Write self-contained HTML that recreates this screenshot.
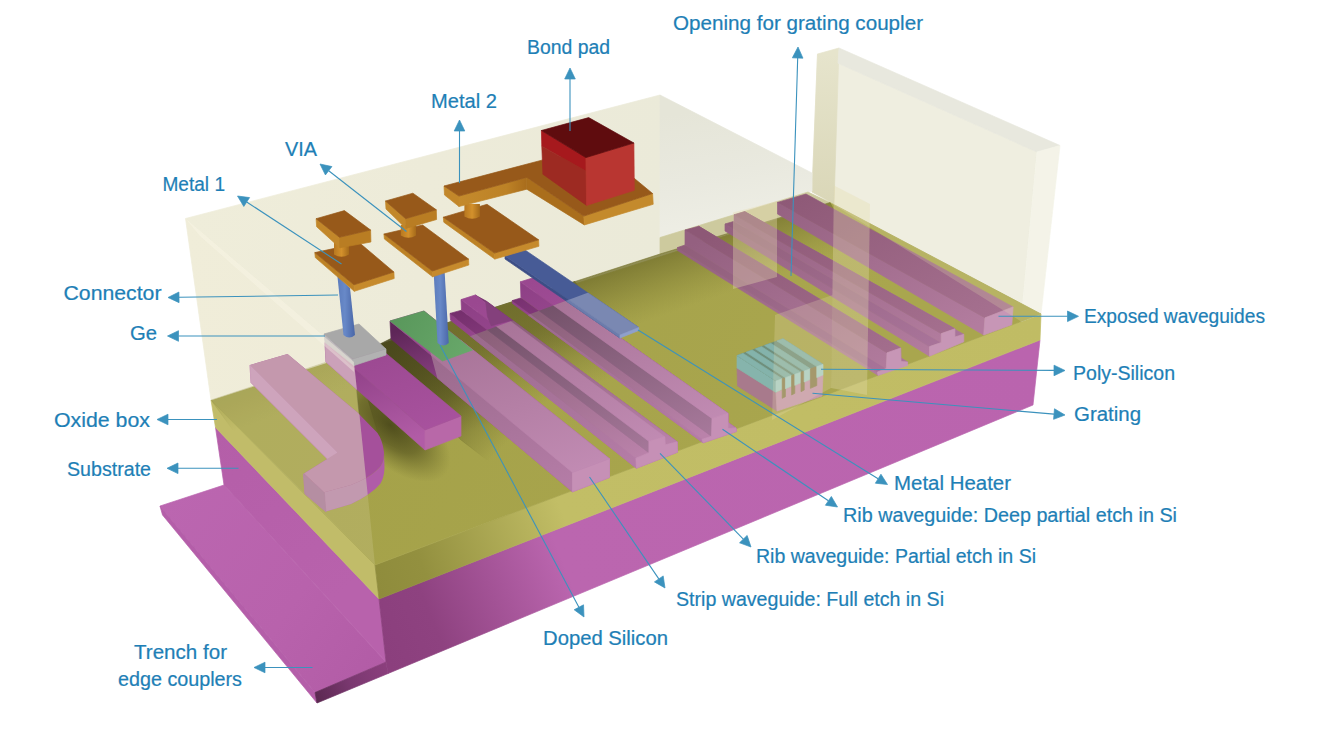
<!DOCTYPE html>
<html><head><meta charset="utf-8"><title>Silicon photonics platform cross-section</title>
<style>html,body{margin:0;padding:0;background:#fff}svg{display:block}text{font-family:"Liberation Sans",sans-serif;font-size:20px;fill:#1e7fb6;stroke:#1e7fb6;stroke-width:0.22px}</style>
</head><body>
<svg width="1321" height="744" viewBox="0 0 1321 744">
<defs><linearGradient id="gtr" gradientUnits="userSpaceOnUse" x1="160" y1="506" x2="386" y2="662"><stop offset="0" stop-color="#bb66b0"/><stop offset="0.6" stop-color="#b862ac"/><stop offset="1" stop-color="#b25ca6"/></linearGradient><linearGradient id="gsw" gradientUnits="userSpaceOnUse" x1="215" y1="427" x2="330" y2="600"><stop offset="0" stop-color="#b45ea8"/><stop offset="1" stop-color="#b862ac"/></linearGradient><linearGradient id="gtf" gradientUnits="userSpaceOnUse" x1="315" y1="700" x2="388" y2="670"><stop offset="0" stop-color="#5a2850"/><stop offset="0.5" stop-color="#7a3870"/><stop offset="1" stop-color="#8b3f7d"/></linearGradient><linearGradient id="gsf" gradientUnits="userSpaceOnUse" x1="379" y1="640" x2="1040" y2="372"><stop offset="0" stop-color="#8b3f7d"/><stop offset="0.08" stop-color="#8e4280"/><stop offset="0.28" stop-color="#bb66af"/><stop offset="1" stop-color="#ba64ae"/></linearGradient><linearGradient id="gof" gradientUnits="userSpaceOnUse" x1="375" y1="582" x2="1041" y2="327"><stop offset="0" stop-color="#8f8c3c"/><stop offset="0.07" stop-color="#93903f"/><stop offset="0.28" stop-color="#c2be66"/><stop offset="1" stop-color="#c0bc64"/></linearGradient><linearGradient id="gws" gradientUnits="userSpaceOnUse" x1="0" y1="54" x2="0" y2="200"><stop offset="0" stop-color="#e6e4cc"/><stop offset="1" stop-color="#dad7b8"/></linearGradient><linearGradient id="got" gradientUnits="userSpaceOnUse" x1="300" y1="300" x2="800" y2="520"><stop offset="0" stop-color="#a4a148"/><stop offset="1" stop-color="#a9a64e"/></linearGradient><linearGradient id="gcb" gradientUnits="userSpaceOnUse" x1="186" y1="218" x2="660" y2="250"><stop offset="0" stop-color="#efedda"/><stop offset="0.5" stop-color="#edebd9"/><stop offset="1" stop-color="#ebead9"/></linearGradient><linearGradient id="gct" gradientUnits="userSpaceOnUse" x1="700" y1="110" x2="720" y2="230"><stop offset="0" stop-color="#e5e5d8"/><stop offset="0.55" stop-color="#e9e9df"/><stop offset="1" stop-color="#eeeee5"/></linearGradient><linearGradient id="gfs" gradientUnits="userSpaceOnUse" x1="500" y1="306" x2="537" y2="406"><stop offset="0" stop-color="#45431a" stop-opacity="0.9"/><stop offset="0.3" stop-color="#504e1c" stop-opacity="0.7"/><stop offset="0.7" stop-color="#6a6828" stop-opacity="0.3"/><stop offset="1" stop-color="#6a6828" stop-opacity="0"/></linearGradient><linearGradient id="gfs2" gradientUnits="userSpaceOnUse" x1="560" y1="288" x2="580" y2="345"><stop offset="0" stop-color="#77742f" stop-opacity="0.85"/><stop offset="0.35" stop-color="#7f7c34" stop-opacity="0.6"/><stop offset="1" stop-color="#8a8838" stop-opacity="0"/></linearGradient><linearGradient id="gfs3" gradientUnits="userSpaceOnUse" x1="280" y1="378" x2="292" y2="410"><stop offset="0" stop-color="#8a8838" stop-opacity="0.3"/><stop offset="1" stop-color="#8a8838" stop-opacity="0"/></linearGradient><linearGradient id="gfs4" gradientUnits="userSpaceOnUse" x1="395" y1="345" x2="500" y2="450"><stop offset="0" stop-color="#45431a" stop-opacity="0.85"/><stop offset="0.5" stop-color="#4a481a" stop-opacity="0.6"/><stop offset="1" stop-color="#5a5820" stop-opacity="0"/></linearGradient><radialGradient id="gbs" gradientUnits="userSpaceOnUse" cx="388" cy="422" r="37" gradientTransform="translate(386 424) rotate(42) scale(2 1) translate(-386 -424)"><stop offset="0" stop-color="#4a481a" stop-opacity="0.92"/><stop offset="0.5" stop-color="#55531e" stop-opacity="0.65"/><stop offset="1" stop-color="#6a6828" stop-opacity="0"/></radialGradient><clipPath id="paleA"><polygon points="185.5,218.5 211,400 375,565 354,362"/></clipPath><clipPath id="paleB"><polygon points="430,351 441,392 560,525 700,540 1041,330 1041,150 660,150 660,266"/></clipPath><clipPath id="paleclip"><polygon points="185.5,218.5 211,400 375,565 354,362"/><polygon points="430,351 441,392 560,525 700,540 1041,330 1041,150 660,150 660,266"/></clipPath><linearGradient id="st" gradientUnits="userSpaceOnUse" x1="400" y1="330" x2="437" y2="430"><stop offset="0" stop-color="#9a4890"/><stop offset="1" stop-color="#a8529e"/></linearGradient><linearGradient id="ss" gradientUnits="userSpaceOnUse" x1="400" y1="330" x2="437" y2="430"><stop offset="0" stop-color="#8a3c82"/><stop offset="1" stop-color="#b15ca6"/></linearGradient><linearGradient id="ssl" gradientUnits="userSpaceOnUse" x1="400" y1="330" x2="437" y2="430"><stop offset="0" stop-color="#742e6c"/><stop offset="1" stop-color="#9c4a92"/></linearGradient><linearGradient id="srs" gradientUnits="userSpaceOnUse" x1="400" y1="330" x2="437" y2="430"><stop offset="0" stop-color="#8e4086"/><stop offset="1" stop-color="#a04e96"/></linearGradient><linearGradient id="sds" gradientUnits="userSpaceOnUse" x1="400" y1="330" x2="437" y2="430"><stop offset="0" stop-color="#5e2658"/><stop offset="1" stop-color="#a8529e"/></linearGradient><linearGradient id="pt" gradientUnits="userSpaceOnUse" x1="500" y1="325" x2="560" y2="487"><stop offset="0" stop-color="#a87498"/><stop offset="1" stop-color="#c28cb4"/></linearGradient><linearGradient id="ps" gradientUnits="userSpaceOnUse" x1="500" y1="325" x2="560" y2="487"><stop offset="0" stop-color="#9a6a8c"/><stop offset="1" stop-color="#b47ca6"/></linearGradient><linearGradient id="psl" gradientUnits="userSpaceOnUse" x1="500" y1="325" x2="560" y2="487"><stop offset="0" stop-color="#8a5f78"/><stop offset="1" stop-color="#ba82aa"/></linearGradient><linearGradient id="prs" gradientUnits="userSpaceOnUse" x1="500" y1="325" x2="560" y2="487"><stop offset="0" stop-color="#74526a"/><stop offset="1" stop-color="#a6789a"/></linearGradient><linearGradient id="ggr" gradientUnits="userSpaceOnUse" x1="400" y1="315" x2="470" y2="355"><stop offset="0" stop-color="#5a985c"/><stop offset="1" stop-color="#68a86a"/></linearGradient><linearGradient id="et" gradientUnits="userSpaceOnUse" x1="740" y1="215" x2="850" y2="400"><stop offset="0" stop-color="#8d5876"/><stop offset="1" stop-color="#a5708f"/></linearGradient><linearGradient id="es" gradientUnits="userSpaceOnUse" x1="740" y1="215" x2="850" y2="400"><stop offset="0" stop-color="#946080"/><stop offset="1" stop-color="#b27c9e"/></linearGradient><linearGradient id="esl" gradientUnits="userSpaceOnUse" x1="740" y1="215" x2="850" y2="400"><stop offset="0" stop-color="#905e7a"/><stop offset="1" stop-color="#a9749a"/></linearGradient><linearGradient id="gc1" gradientUnits="userSpaceOnUse" x1="337.4" y1="0" x2="354" y2="0"><stop offset="0" stop-color="#5c7cbc"/><stop offset="0.45" stop-color="#6889c8"/><stop offset="1" stop-color="#4c69aa"/></linearGradient><linearGradient id="gc2" gradientUnits="userSpaceOnUse" x1="433.5" y1="0" x2="448.4" y2="0"><stop offset="0" stop-color="#5c7cbc"/><stop offset="0.45" stop-color="#6889c8"/><stop offset="1" stop-color="#4c69aa"/></linearGradient><linearGradient id="gv1" gradientUnits="userSpaceOnUse" x1="334" y1="0" x2="349" y2="0"><stop offset="0" stop-color="#b87820"/><stop offset="0.5" stop-color="#d3912c"/><stop offset="1" stop-color="#a56a1a"/></linearGradient><linearGradient id="gv2" gradientUnits="userSpaceOnUse" x1="400.8" y1="0" x2="416" y2="0"><stop offset="0" stop-color="#b87820"/><stop offset="0.5" stop-color="#d3912c"/><stop offset="1" stop-color="#a56a1a"/></linearGradient><linearGradient id="gv3" gradientUnits="userSpaceOnUse" x1="464.4" y1="0" x2="479.9" y2="0"><stop offset="0" stop-color="#b87820"/><stop offset="0.5" stop-color="#d3912c"/><stop offset="1" stop-color="#a56a1a"/></linearGradient><linearGradient id="garm" gradientUnits="userSpaceOnUse" x1="459" y1="0" x2="527" y2="0"><stop offset="0" stop-color="#c48a2c"/><stop offset="0.7" stop-color="#bd8226"/><stop offset="1" stop-color="#a86c1c"/></linearGradient></defs>
<rect width="1321" height="744" fill="#fff"/>
<!-- substrate -->
<polygon points="160,506 224,485 386,662 315,692.5" fill="url(#gtr)" stroke="url(#gtr)" stroke-width="0.7" stroke-linejoin="round"/>
<polygon points="160,506 315,692.5 317,703 162.5,515" fill="#b45ea9" stroke="#b45ea9" stroke-width="0.7" stroke-linejoin="round"/>
<polygon points="215.5,427.5 379,599 386,662 224,485" fill="url(#gsw)" stroke="url(#gsw)" stroke-width="0.7" stroke-linejoin="round"/>
<polygon points="315,692.5 386,662 388,673.5 317,703" fill="url(#gtf)" stroke="url(#gtf)" stroke-width="0.7" stroke-linejoin="round"/>
<polygon points="379,599 1040,340 1033,405 388,673.5 386,662" fill="url(#gsf)" stroke="url(#gsf)" stroke-width="0.7" stroke-linejoin="round"/>
<!-- oxide -->
<polygon points="211,400 375,565 379,599 215.5,427.5" fill="#c1bc69" stroke="#c1bc69" stroke-width="0.7" stroke-linejoin="round"/>
<polygon points="375,565 1041,314 1040,340 379,599" fill="url(#gof)" stroke="url(#gof)" stroke-width="0.7" stroke-linejoin="round"/>
<!-- wall solid (behind floor) -->
<polygon points="817.5,54 1037,152 1021,321.5 812,190" fill="#efeee0" stroke="#efeee0" stroke-width="0.7" stroke-linejoin="round"/>
<polygon points="817.5,54 839,48 834,204 812,192" fill="url(#gws)" stroke="url(#gws)" stroke-width="0.7" stroke-linejoin="round"/>
<polygon points="839,48 1060,145.5 1037,152 838,63.2" fill="#e8e8de" stroke="#e8e8de" stroke-width="0.7" stroke-linejoin="round"/>
<polygon points="1037,152 1060,145.5 1041,314 1021,321.5" fill="#f4f3e8" stroke="#f4f3e8" stroke-width="0.7" stroke-linejoin="round"/>
<polygon points="211,400 375,565 1041,314 830,202.5" fill="url(#got)" stroke="url(#got)" stroke-width="0.7" stroke-linejoin="round"/>
<!-- cladding back -->
<polygon points="185.5,218.5 660,95 660,254 211,400" fill="url(#gcb)" stroke="url(#gcb)" stroke-width="0.7" stroke-linejoin="round"/>
<polygon points="660,95 812,173 812,191 808,192 660,237.5" fill="url(#gct)" stroke="url(#gct)" stroke-width="0.7" stroke-linejoin="round"/>
<polygon points="660,237.5 808,192 830,202.5 660,254" fill="#cdca9e" stroke="#cdca9e" stroke-width="0.7" stroke-linejoin="round"/>
<polygon points="354,353 575,281.5 640,380 440,470 380,440" fill="url(#gfs)" stroke="url(#gfs)" stroke-width="0.7" stroke-linejoin="round"/>
<polygon points="354,353 660,254 830,202.5 860,260 690,320 380,420" fill="url(#gfs2)" stroke="url(#gfs2)" stroke-width="0.7" stroke-linejoin="round"/>
<polygon points="211,400 354,353 362,400 240,440" fill="url(#gfs3)" stroke="url(#gfs3)" stroke-width="0.7" stroke-linejoin="round"/>
<polygon points="372,348 392,338 545,470 500,470 461,440" fill="url(#gfs4)" stroke="url(#gfs4)" stroke-width="0.7" stroke-linejoin="round"/>
<polygon points="355.5,380 480,430 500,520 400,560 374.5,562 366,480" fill="url(#gbs)" stroke="url(#gbs)" stroke-width="0.7" stroke-linejoin="round"/>
<!-- bent strip wg -->
<g>
<polygon points="250,365 337.5,452.5 338.5,470 251,382.5" fill="#b060a6" stroke="#b060a6" stroke-width="0.7" stroke-linejoin="round"/>
<path d="M324.3,492.3 L351,485 Q369,478 377,470 Q384.5,464 384,452 L384.5,468 Q384,478 380.5,483.5 Q372,494 351,504 L325.8,511.5 Z" fill="#b05ca8"/>
<polygon points="303.6,474 324.3,492.3 325.8,511.5 305,493.8" fill="#b868a8" stroke="#b868a8" stroke-width="0.7" stroke-linejoin="round"/>
<path d="M250,365 L287.5,354 L357.5,412.5 L377.5,433 Q382.5,440 384,452 Q384.5,464 377,470 Q369,478 351,485 L324.3,492.3 L304,473.5 L337.5,452.5 Z" fill="#a5509b"/>
</g>
<g clip-path="url(#paleclip)">
<polygon points="250,365 337.5,452.5 338.5,470 251,382.5" fill="#c797b8" stroke="#c797b8" stroke-width="0.7" stroke-linejoin="round"/>
<path d="M324.3,492.3 L351,485 Q369,478 377,470 Q384.5,464 384,452 L384.5,468 Q384,478 380.5,483.5 Q372,494 351,504 L325.8,511.5 Z" fill="#b98aa8"/>
<polygon points="303.6,474 324.3,492.3 325.8,511.5 305,493.8" fill="#aa7d99" stroke="#aa7d99" stroke-width="0.7" stroke-linejoin="round"/>
<path d="M250,365 L287.5,354 L357.5,412.5 L377.5,433 Q382.5,440 384,452 Q384.5,464 377,470 Q369,478 351,485 L324.3,492.3 L304,473.5 L337.5,452.5 Z" fill="#bb89a6"/>
</g>
<!-- Ge wg -->
<g>
<polygon points="325,342.5 425,430 425,450 326,362" fill="url(#ss)" stroke="url(#ss)" stroke-width="0.7" stroke-linejoin="round"/>
<polygon points="425,430 461,416 461,436 425,450" fill="#b868a8" stroke="#b868a8" stroke-width="0.7" stroke-linejoin="round"/>
<polygon points="325,342.5 358,330 461,416 425,430" fill="url(#st)" stroke="url(#st)" stroke-width="0.7" stroke-linejoin="round"/>
</g><g clip-path="url(#paleB)">
<polygon points="325,342.5 425,430 425,450 326,362" fill="url(#ps)" stroke="url(#ps)" stroke-width="0.7" stroke-linejoin="round"/>
<polygon points="425,430 461,416 461,436 425,450" fill="#c690b6" stroke="#c690b6" stroke-width="0.7" stroke-linejoin="round"/>
<polygon points="325,342.5 358,330 461,416 425,430" fill="url(#pt)" stroke="url(#pt)" stroke-width="0.7" stroke-linejoin="round"/>
</g><g clip-path="url(#paleA)">
<polygon points="325,342.5 425,430 425,450 326,362" fill="#c493b4" stroke="#c493b4" stroke-width="0.7" stroke-linejoin="round"/>
<polygon points="425,430 461,416 461,436 425,450" fill="#c290b0" stroke="#c290b0" stroke-width="0.7" stroke-linejoin="round"/>
<polygon points="325,342.5 358,330 461,416 425,430" fill="#bb8aa6" stroke="#bb8aa6" stroke-width="0.7" stroke-linejoin="round"/>
</g>
<!-- Ge block -->
<polygon points="324,334 352.5,359 354,365.5 325,342.5" fill="#bcb8bb" stroke="#bcb8bb" stroke-width="0.7" stroke-linejoin="round"/>
<polygon points="352.5,359 386,349 386,355 354,365.5" fill="#b2b2b2" stroke="#b2b2b2" stroke-width="0.7" stroke-linejoin="round"/>
<polygon points="324,334 359,324 386,349 352.5,359" fill="#a8a8a8" stroke="#a8a8a8" stroke-width="0.7" stroke-linejoin="round"/>
<!-- doped / strip wg -->
<g>
<polygon points="390,321 572.5,472.5 572.5,491.75 391,339" fill="url(#sds)" stroke="url(#sds)" stroke-width="0.7" stroke-linejoin="round"/>
<polygon points="572.5,472.5 609.5,458.75 609.5,477.5 572.5,491.75" fill="#b868a8" stroke="#b868a8" stroke-width="0.7" stroke-linejoin="round"/>
<polygon points="390,321 424,311 609.5,458.75 572.5,472.5" fill="url(#st)" stroke="url(#st)" stroke-width="0.7" stroke-linejoin="round"/>
</g><g clip-path="url(#paleB)">
<polygon points="390,321 572.5,472.5 572.5,491.75 391,339" fill="url(#ps)" stroke="url(#ps)" stroke-width="0.7" stroke-linejoin="round"/>
<polygon points="572.5,472.5 609.5,458.75 609.5,477.5 572.5,491.75" fill="#c690b6" stroke="#c690b6" stroke-width="0.7" stroke-linejoin="round"/>
<polygon points="390,321 424,311 609.5,458.75 572.5,472.5" fill="url(#pt)" stroke="url(#pt)" stroke-width="0.7" stroke-linejoin="round"/>
</g><g clip-path="url(#paleA)">
<polygon points="390,321 572.5,472.5 572.5,491.75 391,339" fill="#c493b4" stroke="#c493b4" stroke-width="0.7" stroke-linejoin="round"/>
<polygon points="572.5,472.5 609.5,458.75 609.5,477.5 572.5,491.75" fill="#c290b0" stroke="#c290b0" stroke-width="0.7" stroke-linejoin="round"/>
<polygon points="390,321 424,311 609.5,458.75 572.5,472.5" fill="#bb8aa6" stroke="#bb8aa6" stroke-width="0.7" stroke-linejoin="round"/>
</g>
<polygon points="390,321 424,311 472.5,350 442.5,361" fill="url(#ggr)" stroke="url(#ggr)" stroke-width="0.7" stroke-linejoin="round"/>
<!-- rib wg partial -->
<g>
<polygon points="450,313.4 635.9,458.2 636.4,468.2 450.5,320.2" fill="url(#ss)" stroke="url(#ss)" stroke-width="0.7" stroke-linejoin="round"/>
<polygon points="450,313.4 461.5,310.2 648.9,452.7 635.9,458.2" fill="url(#ssl)" stroke="url(#ssl)" stroke-width="0.7" stroke-linejoin="round"/>
<polygon points="475.2,295 486.6,301.3 677.2,441.8 665.3,444.8 664.8,436.8" fill="url(#ssl)" stroke="url(#ssl)" stroke-width="0.7" stroke-linejoin="round"/>
<polygon points="461,299.6 648.9,441.3 648.9,452.7 461.5,310.2" fill="url(#srs)" stroke="url(#srs)" stroke-width="0.7" stroke-linejoin="round"/>
<polygon points="461,299.6 475.2,295 664.8,436.8 648.9,441.3" fill="url(#st)" stroke="url(#st)" stroke-width="0.7" stroke-linejoin="round"/>
<polygon points="635.9,458.2 648.9,452.7 648.9,441.3 664.8,436.8 665.3,444.8 677.2,441.8 677.5,452.2 636.4,468.2" fill="#b868a8" stroke="#b868a8" stroke-width="0.7" stroke-linejoin="round"/>
</g><g clip-path="url(#paleB)">
<polygon points="450,313.4 635.9,458.2 636.4,468.2 450.5,320.2" fill="url(#ps)" stroke="url(#ps)" stroke-width="0.7" stroke-linejoin="round"/>
<polygon points="450,313.4 461.5,310.2 648.9,452.7 635.9,458.2" fill="url(#psl)" stroke="url(#psl)" stroke-width="0.7" stroke-linejoin="round"/>
<polygon points="475.2,295 486.6,301.3 677.2,441.8 665.3,444.8 664.8,436.8" fill="url(#psl)" stroke="url(#psl)" stroke-width="0.7" stroke-linejoin="round"/>
<polygon points="461,299.6 648.9,441.3 648.9,452.7 461.5,310.2" fill="url(#prs)" stroke="url(#prs)" stroke-width="0.7" stroke-linejoin="round"/>
<polygon points="461,299.6 475.2,295 664.8,436.8 648.9,441.3" fill="url(#pt)" stroke="url(#pt)" stroke-width="0.7" stroke-linejoin="round"/>
<polygon points="635.9,458.2 648.9,452.7 648.9,441.3 664.8,436.8 665.3,444.8 677.2,441.8 677.5,452.2 636.4,468.2" fill="#c690b6" stroke="#c690b6" stroke-width="0.7" stroke-linejoin="round"/>
</g><g clip-path="url(#paleA)">
<polygon points="450,313.4 635.9,458.2 636.4,468.2 450.5,320.2" fill="#c493b4" stroke="#c493b4" stroke-width="0.7" stroke-linejoin="round"/>
<polygon points="450,313.4 461.5,310.2 648.9,452.7 635.9,458.2" fill="#bb8aa6" stroke="#bb8aa6" stroke-width="0.7" stroke-linejoin="round"/>
<polygon points="475.2,295 486.6,301.3 677.2,441.8 665.3,444.8 664.8,436.8" fill="#bb8aa6" stroke="#bb8aa6" stroke-width="0.7" stroke-linejoin="round"/>
<polygon points="461,299.6 648.9,441.3 648.9,452.7 461.5,310.2" fill="#c493b4" stroke="#c493b4" stroke-width="0.7" stroke-linejoin="round"/>
<polygon points="461,299.6 475.2,295 664.8,436.8 648.9,441.3" fill="#bb8aa6" stroke="#bb8aa6" stroke-width="0.7" stroke-linejoin="round"/>
<polygon points="635.9,458.2 648.9,452.7 648.9,441.3 664.8,436.8 665.3,444.8 677.2,441.8 677.5,452.2 636.4,468.2" fill="#c290b0" stroke="#c290b0" stroke-width="0.7" stroke-linejoin="round"/>
</g>
<polygon points="485.7,301.2 512.2,320.2 491.2,325.7 487.5,316.6" fill="#84407c" stroke="#84407c" stroke-width="0.7" stroke-linejoin="round"/>
<!-- rib wg deep -->
<g>
<polygon points="512.2,300.6 702.1,439.3 703.1,442.8 512.5,303.5" fill="url(#ss)" stroke="url(#ss)" stroke-width="0.7" stroke-linejoin="round"/>
<polygon points="512.2,300.6 520.9,297.9 711.5,436.3 702.1,439.3" fill="url(#ssl)" stroke="url(#ssl)" stroke-width="0.7" stroke-linejoin="round"/>
<polygon points="534,277.5 540.3,291 736,428 728,428.5 728,413.4" fill="url(#ssl)" stroke="url(#ssl)" stroke-width="0.7" stroke-linejoin="round"/>
<polygon points="520.4,281.8 712,418.4 711.5,436.3 520.9,297.4" fill="url(#srs)" stroke="url(#srs)" stroke-width="0.7" stroke-linejoin="round"/>
<polygon points="520.4,281.8 534,277.5 728,413.4 712,418.4" fill="url(#st)" stroke="url(#st)" stroke-width="0.7" stroke-linejoin="round"/>
<polygon points="702.1,439.3 711.5,436.3 712,418.4 728,413.4 728,428.5 736,428 736.4,431.5 703.1,442.8" fill="#b868a8" stroke="#b868a8" stroke-width="0.7" stroke-linejoin="round"/>
</g><g clip-path="url(#paleB)">
<polygon points="512.2,300.6 702.1,439.3 703.1,442.8 512.5,303.5" fill="url(#ps)" stroke="url(#ps)" stroke-width="0.7" stroke-linejoin="round"/>
<polygon points="512.2,300.6 520.9,297.9 711.5,436.3 702.1,439.3" fill="url(#psl)" stroke="url(#psl)" stroke-width="0.7" stroke-linejoin="round"/>
<polygon points="534,277.5 540.3,291 736,428 728,428.5 728,413.4" fill="url(#psl)" stroke="url(#psl)" stroke-width="0.7" stroke-linejoin="round"/>
<polygon points="520.4,281.8 712,418.4 711.5,436.3 520.9,297.4" fill="url(#prs)" stroke="url(#prs)" stroke-width="0.7" stroke-linejoin="round"/>
<polygon points="520.4,281.8 534,277.5 728,413.4 712,418.4" fill="url(#pt)" stroke="url(#pt)" stroke-width="0.7" stroke-linejoin="round"/>
<polygon points="702.1,439.3 711.5,436.3 712,418.4 728,413.4 728,428.5 736,428 736.4,431.5 703.1,442.8" fill="#c690b6" stroke="#c690b6" stroke-width="0.7" stroke-linejoin="round"/>
</g><g clip-path="url(#paleA)">
<polygon points="512.2,300.6 702.1,439.3 703.1,442.8 512.5,303.5" fill="#c493b4" stroke="#c493b4" stroke-width="0.7" stroke-linejoin="round"/>
<polygon points="512.2,300.6 520.9,297.9 711.5,436.3 702.1,439.3" fill="#bb8aa6" stroke="#bb8aa6" stroke-width="0.7" stroke-linejoin="round"/>
<polygon points="534,277.5 540.3,291 736,428 728,428.5 728,413.4" fill="#bb8aa6" stroke="#bb8aa6" stroke-width="0.7" stroke-linejoin="round"/>
<polygon points="520.4,281.8 712,418.4 711.5,436.3 520.9,297.4" fill="#c493b4" stroke="#c493b4" stroke-width="0.7" stroke-linejoin="round"/>
<polygon points="520.4,281.8 534,277.5 728,413.4 712,418.4" fill="#bb8aa6" stroke="#bb8aa6" stroke-width="0.7" stroke-linejoin="round"/>
<polygon points="702.1,439.3 711.5,436.3 712,418.4 728,413.4 728,428.5 736,428 736.4,431.5 703.1,442.8" fill="#c290b0" stroke="#c290b0" stroke-width="0.7" stroke-linejoin="round"/>
</g>
<!-- heater -->
<g>
<polygon points="505,256 620,335 620,338 505,259" fill="#3c4e86" stroke="#3c4e86" stroke-width="0.7" stroke-linejoin="round"/>
<polygon points="505,256 525,250 638.75,327.5 620,335" fill="#475b96" stroke="#475b96" stroke-width="0.7" stroke-linejoin="round"/>
</g><g clip-path="url(#paleclip)">
<polygon points="505,256 620,335 620,338 505,259" fill="#6c7cac" stroke="#6c7cac" stroke-width="0.7" stroke-linejoin="round"/>
<polygon points="505,256 525,250 638.75,327.5 620,335" fill="#7a88b2" stroke="#7a88b2" stroke-width="0.7" stroke-linejoin="round"/>
<polygon points="620,335 638.75,327.5 638.75,330.5 620,338" fill="#8fa0cc" stroke="#8fa0cc" stroke-width="0.7" stroke-linejoin="round"/>
</g>
<!-- exposed wgs -->
<polygon points="677.5,247.5 877.4,372 878.1,375.4 677.5,250.5" fill="url(#es)" stroke="url(#es)" stroke-width="0.7" stroke-linejoin="round"/>
<polygon points="677.5,247.5 685,245 886.3,368.5 877.4,372" fill="url(#esl)" stroke="url(#esl)" stroke-width="0.7" stroke-linejoin="round"/>
<polygon points="698.75,226.25 705,234 907.6,362 901,361.5 900.7,348" fill="url(#esl)" stroke="url(#esl)" stroke-width="0.7" stroke-linejoin="round"/>
<polygon points="685,230 887,352.8 886.3,368.5 685,245" fill="url(#es)" stroke="url(#es)" stroke-width="0.7" stroke-linejoin="round"/>
<polygon points="685,230 698.75,226.25 900.7,348 887,352.8" fill="url(#et)" stroke="url(#et)" stroke-width="0.7" stroke-linejoin="round"/>
<polygon points="877.4,372 886.3,368.5 887,352.8 900.7,348 901,361.5 907.6,362 907.6,365.5 878.1,375.4" fill="#c796b6" stroke="#c796b6" stroke-width="0.7" stroke-linejoin="round"/>
<polygon points="725,224 929.5,346.6 929.5,356.2 725,231" fill="url(#es)" stroke="url(#es)" stroke-width="0.7" stroke-linejoin="round"/>
<polygon points="725,224 734,221.3 941.2,342.5 929.5,346.6" fill="url(#esl)" stroke="url(#esl)" stroke-width="0.7" stroke-linejoin="round"/>
<polygon points="744.5,211.6 751.5,216 963.8,334.3 954.9,337 954.9,328.8" fill="url(#esl)" stroke="url(#esl)" stroke-width="0.7" stroke-linejoin="round"/>
<polygon points="734,214.8 941.2,333.6 941.2,342.5 734,221.3" fill="url(#es)" stroke="url(#es)" stroke-width="0.7" stroke-linejoin="round"/>
<polygon points="734,214.8 744.5,211.6 954.9,328.8 941.2,333.6" fill="url(#et)" stroke="url(#et)" stroke-width="0.7" stroke-linejoin="round"/>
<polygon points="929.5,346.6 941.2,342.5 941.2,333.6 954.9,328.8 954.9,337 963.8,334.3 963.8,341.8 929.5,356.2" fill="#c796b6" stroke="#c796b6" stroke-width="0.7" stroke-linejoin="round"/>
<polygon points="777.5,202.4 985,317.8 983.7,335 777.5,214" fill="url(#es)" stroke="url(#es)" stroke-width="0.7" stroke-linejoin="round"/>
<polygon points="777.5,202.4 806,194 1013.1,306.9 985,317.8" fill="url(#et)" stroke="url(#et)" stroke-width="0.7" stroke-linejoin="round"/>
<polygon points="985,317.8 1013.1,306.9 1011.8,324.7 983.7,335" fill="#c796b6" stroke="#c796b6" stroke-width="0.7" stroke-linejoin="round"/>
<!-- grating -->
<polygon points="737,368 776,392.5 777,411 737.5,386" fill="#a87a8c" stroke="#a87a8c" stroke-width="0.7" stroke-linejoin="round"/>
<polygon points="776,392.5 823,375 822,396 777,411" fill="#c799b0" stroke="#c799b0" stroke-width="0.7" stroke-linejoin="round"/>
<polygon points="737,355.6 776,381 776,392.5 737,368" fill="#86b4ac" stroke="#86b4ac" stroke-width="0.7" stroke-linejoin="round"/>
<polygon points="737,355.6 783,338.75 823,364.4 776,381" fill="#6f8f7c" stroke="#6f8f7c" stroke-width="0.7" stroke-linejoin="round"/>
<polygon points="737,355.6 743.072,353.376 782.204,378.809 776,381" fill="#84b3ab" stroke="#84b3ab" stroke-width="0.7" stroke-linejoin="round"/>
<polygon points="776,381 782.204,378.809 782.204,389.309 776,392" fill="#a9d0cb" stroke="#a9d0cb" stroke-width="0.7" stroke-linejoin="round"/>
<polygon points="782.204,378.809 785.4,377.68 785.4,396.68 782.204,398.309" fill="#8f8256" stroke="#8f8256" stroke-width="0.7" stroke-linejoin="round"/>
<polygon points="746.2,352.23 752.272,350.006 791.604,375.489 785.4,377.68" fill="#84b3ab" stroke="#84b3ab" stroke-width="0.7" stroke-linejoin="round"/>
<polygon points="785.4,377.68 791.604,375.489 791.604,385.989 785.4,388.68" fill="#a9d0cb" stroke="#a9d0cb" stroke-width="0.7" stroke-linejoin="round"/>
<polygon points="791.604,375.489 794.8,374.36 794.8,393.36 791.604,394.989" fill="#8f8256" stroke="#8f8256" stroke-width="0.7" stroke-linejoin="round"/>
<polygon points="755.4,348.86 761.472,346.636 801.004,372.169 794.8,374.36" fill="#84b3ab" stroke="#84b3ab" stroke-width="0.7" stroke-linejoin="round"/>
<polygon points="794.8,374.36 801.004,372.169 801.004,382.669 794.8,385.36" fill="#a9d0cb" stroke="#a9d0cb" stroke-width="0.7" stroke-linejoin="round"/>
<polygon points="801.004,372.169 804.2,371.04 804.2,390.04 801.004,391.669" fill="#8f8256" stroke="#8f8256" stroke-width="0.7" stroke-linejoin="round"/>
<polygon points="764.6,345.49 770.672,343.266 810.404,368.849 804.2,371.04" fill="#84b3ab" stroke="#84b3ab" stroke-width="0.7" stroke-linejoin="round"/>
<polygon points="804.2,371.04 810.404,368.849 810.404,379.349 804.2,382.04" fill="#a9d0cb" stroke="#a9d0cb" stroke-width="0.7" stroke-linejoin="round"/>
<polygon points="810.404,368.849 816.796,366.591 816.796,385.591 810.404,388.349" fill="#8f8256" stroke="#8f8256" stroke-width="0.7" stroke-linejoin="round"/>
<polygon points="776.928,340.974 783,338.75 823,364.4 816.796,366.591" fill="#84b3ab" stroke="#84b3ab" stroke-width="0.7" stroke-linejoin="round"/>
<polygon points="816.796,366.591 823,364.4 823,374.9 816.796,377.591" fill="#a9d0cb" stroke="#a9d0cb" stroke-width="0.7" stroke-linejoin="round"/>
<!-- metals -->
<path d="M337.4,276 L343.5,335 Q349.25,340 355,335 L350,288 Z" fill="url(#gc1)"/>
<path d="M433.5,270 L437.5,343 Q443.125,348 448.75,343 L444.4,268 Z" fill="url(#gc2)"/>
<polygon points="314.8,252.6 354,284.8 354.3,291.3 315.3,257.6" fill="#bd8226" stroke="#bd8226" stroke-width="0.7" stroke-linejoin="round"/>
<polygon points="354,284.8 393.9,272 394.2,278.5 354.3,291.3" fill="#c68a2c" stroke="#c68a2c" stroke-width="0.7" stroke-linejoin="round"/>
<polygon points="314.8,252.6 359.7,243 393.9,272 354,284.8" fill="#97591a" stroke="#97591a" stroke-width="0.7" stroke-linejoin="round"/>
<path d="M334,240 L334,254.5 Q341.5,259.0 349,254.5 L349,240 Z" fill="url(#gv1)"/>
<polygon points="316.1,218.7 339.5,237.3 339.8,247.8 316.6,226.7" fill="#c2872a" stroke="#c2872a" stroke-width="0.7" stroke-linejoin="round"/>
<polygon points="339.5,237.3 370.6,230 370.9,242 339.8,247.8" fill="#b97d23" stroke="#b97d23" stroke-width="0.7" stroke-linejoin="round"/>
<polygon points="316.1,218.7 344.4,210.6 370.6,230 339.5,237.3" fill="#97591a" stroke="#97591a" stroke-width="0.7" stroke-linejoin="round"/>
<polygon points="383.9,234 432.3,271 432.6,276.8 384.4,239" fill="#bd8226" stroke="#bd8226" stroke-width="0.7" stroke-linejoin="round"/>
<polygon points="432.3,271 468.5,259 468.8,265 432.6,276.8" fill="#c68a2c" stroke="#c68a2c" stroke-width="0.7" stroke-linejoin="round"/>
<polygon points="383.9,234 422.6,225 468.5,259 432.3,271" fill="#97591a" stroke="#97591a" stroke-width="0.7" stroke-linejoin="round"/>
<path d="M400.8,225 L400.8,235.5 Q408.4,240.0 416,235.5 L416,225 Z" fill="url(#gv2)"/>
<polygon points="385.5,201 405.6,218.7 405.9,228.4 386,209" fill="#c2872a" stroke="#c2872a" stroke-width="0.7" stroke-linejoin="round"/>
<polygon points="405.6,218.7 436.3,209.8 436.6,219.5 405.9,228.4" fill="#b97d23" stroke="#b97d23" stroke-width="0.7" stroke-linejoin="round"/>
<polygon points="385.5,201 412.9,193.2 436.3,209.8 405.6,218.7" fill="#97591a" stroke="#97591a" stroke-width="0.7" stroke-linejoin="round"/>
<polygon points="443.3,217.2 494.5,253.1 494.8,259.1 443.8,222.2" fill="#bd8226" stroke="#bd8226" stroke-width="0.7" stroke-linejoin="round"/>
<polygon points="494.5,253.1 538.6,239.8 538.9,246.3 494.8,259.1" fill="#c68a2c" stroke="#c68a2c" stroke-width="0.7" stroke-linejoin="round"/>
<polygon points="443.3,217.2 487,204.3 538.6,239.8 494.5,253.1" fill="#97591a" stroke="#97591a" stroke-width="0.7" stroke-linejoin="round"/>
<path d="M464.4,204 L464.4,216.5 Q472.15,221.0 479.9,216.5 L479.9,204 Z" fill="url(#gv3)"/>
<polygon points="444,186 459,196.1 459,206.5 444.5,195" fill="#c2872a" stroke="#c2872a" stroke-width="0.7" stroke-linejoin="round"/>
<polygon points="459,196.1 526.8,177.4 526.8,189.2 459,206.5" fill="url(#garm)" stroke="url(#garm)" stroke-width="0.7" stroke-linejoin="round"/>
<polygon points="526.8,177.4 583.8,216.1 584.4,224.9 526.8,189.2" fill="#aa6e1c" stroke="#aa6e1c" stroke-width="0.7" stroke-linejoin="round"/>
<polygon points="583.8,216.1 652.6,193.5 653.2,204.3 584.4,224.9" fill="#c48a2c" stroke="#c48a2c" stroke-width="0.7" stroke-linejoin="round"/>
<polygon points="444,186 541.8,160.2 600,150 652.6,193.5 583.8,216.1 526.8,177.4 459,196.1" fill="#97591a" stroke="#97591a" stroke-width="0.7" stroke-linejoin="round"/>
<!-- bond pad -->
<polygon points="541.4,130.5 585.9,157.6 585.9,171 541.8,146.2" fill="#a6191d" stroke="#a6191d" stroke-width="0.7" stroke-linejoin="round"/>
<polygon points="541.8,146.2 585.9,171 586.6,205.4 542.9,174.2" fill="#9d2a22" stroke="#9d2a22" stroke-width="0.7" stroke-linejoin="round"/>
<polygon points="585.9,157.6 633.9,143 634.3,190.3 586.6,205.4" fill="#b93631" stroke="#b93631" stroke-width="0.7" stroke-linejoin="round"/>
<polygon points="541.4,130.5 588.7,117.6 633.9,143 585.9,157.6" fill="#5f0c0e" stroke="#5f0c0e" stroke-width="0.7" stroke-linejoin="round"/>
<!-- cladding overlays -->
<polygon points="185.5,218.5 211,400 375,565 354,362" fill="#f6f2d8" fill-opacity="0.15"/>
<polygon points="185.5,218.5 354,362 354,372 200,236" fill="#fbf9ea" fill-opacity="0.35"/>
<polygon points="830,202.5 1021,303.5 1041,314 1021,321.5 990,302" fill="#e8e4b0" fill-opacity="0.22"/>
<polygon points="733,212.5 777,201 777,277 733,289" fill="#e6dcae" fill-opacity="0.36"/>
<polygon points="834,185.5 870,204 867,395 831,388" fill="#e6dcae" fill-opacity="0.34"/>
<polygon points="775,315 832.5,295 831,388 772,420" fill="#e6dcae" fill-opacity="0.25"/>
<!-- labels -->
<line x1="791" y1="276" x2="797.7" y2="58.0" stroke="#3b92bd" stroke-width="1.1"/>
<polygon points="798,47 802.961,58.1568 792.366,57.8329" fill="#3b92bd" stroke="#3b92bd" stroke-width="0.7" stroke-linejoin="round"/>
<line x1="570" y1="131" x2="570.0" y2="79.0" stroke="#3b92bd" stroke-width="1.1"/>
<polygon points="570,68 575.3,79 564.7,79" fill="#3b92bd" stroke="#3b92bd" stroke-width="0.7" stroke-linejoin="round"/>
<line x1="459.5" y1="183" x2="459.5" y2="131.0" stroke="#3b92bd" stroke-width="1.1"/>
<polygon points="459.5,120 464.8,131 454.2,131" fill="#3b92bd" stroke="#3b92bd" stroke-width="0.7" stroke-linejoin="round"/>
<line x1="406.5" y1="231.5" x2="328.7" y2="170.8" stroke="#3b92bd" stroke-width="1.1"/>
<polygon points="320,164 331.933,166.589 325.411,174.946" fill="#3b92bd" stroke="#3b92bd" stroke-width="0.7" stroke-linejoin="round"/>
<line x1="341.5" y1="264" x2="246.7" y2="202.0" stroke="#3b92bd" stroke-width="1.1"/>
<polygon points="237.5,196 249.607,197.584 243.806,206.456" fill="#3b92bd" stroke="#3b92bd" stroke-width="0.7" stroke-linejoin="round"/>
<line x1="338" y1="295" x2="179.0" y2="297.3" stroke="#3b92bd" stroke-width="1.1"/>
<polygon points="168,297.5 178.921,292.039 179.077,302.638" fill="#3b92bd" stroke="#3b92bd" stroke-width="0.7" stroke-linejoin="round"/>
<line x1="325" y1="336" x2="178.5" y2="336.0" stroke="#3b92bd" stroke-width="1.1"/>
<polygon points="167.5,336 178.5,330.7 178.5,341.3" fill="#3b92bd" stroke="#3b92bd" stroke-width="0.7" stroke-linejoin="round"/>
<line x1="217" y1="419.5" x2="168.0" y2="419.5" stroke="#3b92bd" stroke-width="1.1"/>
<polygon points="157,419.5 168,414.2 168,424.8" fill="#3b92bd" stroke="#3b92bd" stroke-width="0.7" stroke-linejoin="round"/>
<line x1="238.5" y1="468.3" x2="178.0" y2="468.3" stroke="#3b92bd" stroke-width="1.1"/>
<polygon points="167,468.3 178,463 178,473.6" fill="#3b92bd" stroke="#3b92bd" stroke-width="0.7" stroke-linejoin="round"/>
<line x1="312.5" y1="667.5" x2="265.0" y2="667.5" stroke="#3b92bd" stroke-width="1.1"/>
<polygon points="254,667.5 265,662.2 265,672.8" fill="#3b92bd" stroke="#3b92bd" stroke-width="0.7" stroke-linejoin="round"/>
<line x1="998.5" y1="316.3" x2="1067.5" y2="316.3" stroke="#3b92bd" stroke-width="1.1"/>
<polygon points="1078.5,316.3 1067.5,321.6 1067.5,311" fill="#3b92bd" stroke="#3b92bd" stroke-width="0.7" stroke-linejoin="round"/>
<line x1="821" y1="369.3" x2="1054.0" y2="370.4" stroke="#3b92bd" stroke-width="1.1"/>
<polygon points="1065,370.5 1053.97,375.746 1054.03,365.146" fill="#3b92bd" stroke="#3b92bd" stroke-width="0.7" stroke-linejoin="round"/>
<line x1="812.5" y1="393.3" x2="1054.0" y2="414.1" stroke="#3b92bd" stroke-width="1.1"/>
<polygon points="1065,415 1053.59,419.339 1054.49,408.778" fill="#3b92bd" stroke="#3b92bd" stroke-width="0.7" stroke-linejoin="round"/>
<line x1="638" y1="330" x2="878.1" y2="478.7" stroke="#3b92bd" stroke-width="1.1"/>
<polygon points="887.5,484.5 875.358,483.215 880.938,474.203" fill="#3b92bd" stroke="#3b92bd" stroke-width="0.7" stroke-linejoin="round"/>
<line x1="722.5" y1="429.3" x2="828.4" y2="500.8" stroke="#3b92bd" stroke-width="1.1"/>
<polygon points="837.5,507 825.418,505.233 831.353,496.45" fill="#3b92bd" stroke="#3b92bd" stroke-width="0.7" stroke-linejoin="round"/>
<line x1="660" y1="453.3" x2="743.3" y2="539.1" stroke="#3b92bd" stroke-width="1.1"/>
<polygon points="751,547 739.534,542.801 747.138,535.416" fill="#3b92bd" stroke="#3b92bd" stroke-width="0.7" stroke-linejoin="round"/>
<line x1="589.5" y1="477" x2="658.8" y2="578.9" stroke="#3b92bd" stroke-width="1.1"/>
<polygon points="665,588 654.431,581.885 663.196,575.924" fill="#3b92bd" stroke="#3b92bd" stroke-width="0.7" stroke-linejoin="round"/>
<line x1="440" y1="345" x2="578.9" y2="607.3" stroke="#3b92bd" stroke-width="1.1"/>
<polygon points="584,617 574.169,609.758 583.537,604.799" fill="#3b92bd" stroke="#3b92bd" stroke-width="0.7" stroke-linejoin="round"/>
<text x="673" y="30" textLength="250" lengthAdjust="spacingAndGlyphs">Opening for grating coupler</text>
<text x="527" y="54" textLength="83" lengthAdjust="spacingAndGlyphs">Bond pad</text>
<text x="431" y="108" textLength="66" lengthAdjust="spacingAndGlyphs">Metal 2</text>
<text x="285" y="155.5" textLength="32" lengthAdjust="spacingAndGlyphs">VIA</text>
<text x="162.5" y="190.5" textLength="62.5" lengthAdjust="spacingAndGlyphs">Metal 1</text>
<text x="63.5" y="300" textLength="98" lengthAdjust="spacingAndGlyphs">Connector</text>
<text x="130" y="340" textLength="27" lengthAdjust="spacingAndGlyphs">Ge</text>
<text x="54" y="427" textLength="96" lengthAdjust="spacingAndGlyphs">Oxide box</text>
<text x="67" y="476" textLength="84" lengthAdjust="spacingAndGlyphs">Substrate</text>
<text x="134" y="659" textLength="93" lengthAdjust="spacingAndGlyphs">Trench for</text>
<text x="118" y="686" textLength="124" lengthAdjust="spacingAndGlyphs">edge couplers</text>
<text x="1084" y="323" textLength="181" lengthAdjust="spacingAndGlyphs">Exposed waveguides</text>
<text x="1073" y="380" textLength="102" lengthAdjust="spacingAndGlyphs">Poly-Silicon</text>
<text x="1074" y="421" textLength="67" lengthAdjust="spacingAndGlyphs">Grating</text>
<text x="894" y="490" textLength="117" lengthAdjust="spacingAndGlyphs">Metal Heater</text>
<text x="843" y="522" textLength="334" lengthAdjust="spacingAndGlyphs">Rib waveguide: Deep partial etch in Si</text>
<text x="756" y="562.7" textLength="280" lengthAdjust="spacingAndGlyphs">Rib waveguide: Partial etch in Si</text>
<text x="676" y="605.5" textLength="268" lengthAdjust="spacingAndGlyphs">Strip waveguide: Full etch in Si</text>
<text x="543" y="645" textLength="125" lengthAdjust="spacingAndGlyphs">Doped Silicon</text>
</svg>
</body></html>
